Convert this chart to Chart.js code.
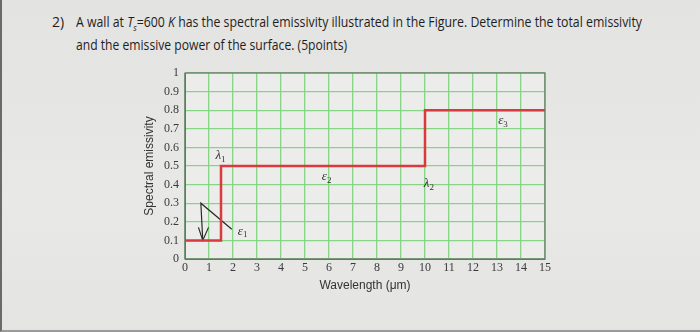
<!DOCTYPE html>
<html>
<head>
<meta charset="utf-8">
<script src="https://cdn.jsdelivr.net/npm/chart.js@4.4.1/dist/chart.umd.min.js"></script>
<style>
  html, body { margin: 0; padding: 0; }
  body {
    width: 700px; height: 332px; overflow: hidden; position: relative;
    background: linear-gradient(180deg, #e3e3e1 0%, #e8e8e6 60%, #e4e4e2 100%);
    border-left: 2px solid #6a6a6a; box-sizing: border-box;
    border-bottom: 2px solid #9a9a9a;
  }
  .line {
    position: absolute; font-family: "Open Sans", sans-serif; font-size: 14px;
    color: #1e1e1e; white-space: nowrap; transform-origin: 0 50%;
  }
  #wrap { position: absolute; left: 0; top: 0; width: 700px; height: 332px; }
</style>
</head>
<body>
<div class="line" id="num" style="left:50px; top:12px;">2)</div>
<div class="line" id="l1" style="left:74px; top:12px;">A wall at <i>T</i><sub style="font-size:9px"><i>s</i></sub>=600 <i>K</i> has the spectral emissivity illustrated in the Figure. Determine the total emissivity</div>
<div class="line" id="l2" style="left:74px; top:35px;">and the emissive power of the surface. (5points)</div>
<div id="wrap"><canvas id="grafico" width="700" height="332"></canvas></div>
<script>
// Datos
const bordes = [0, 1.5, 10, 15];            // longitud de onda (um)
const emisividad = [0.1, 0.5, 0.8, 0.8];    // emisividad espectral
const flechaX = [1.95, 0.66, 0.74];         // linea guia de epsilon 1
const flechaY = [0.16, 0.30, 0.10];
const puntaX = [0.56, 0.74, 0.98];          // punta de la flecha
const puntaY = [0.17, 0.10, 0.17];
const etiquetas = ['λ1', 'ε2', 'λ2', 'ε3', 'ε1'];
const etiquetasX = [1.52, 5.95, 10.2, 13.3, 2.45];
const etiquetasY = [0.555, 0.445, 0.405, 0.745, 0.15];

// ajustar ancho del enunciado
function ajustar(id, ancho) {
    const el = document.getElementById(id);
    const w = el.getBoundingClientRect().width;
    el.style.transform = 'scaleX(' + (ancho / w) + ')';
}
ajustar('l1', 566);
ajustar('l2', 271);

const fondoPlot = {
    id: 'fondoPlot',
    beforeDraw(chart) {
        const { ctx, chartArea: a } = chart;
        ctx.save();
        ctx.fillStyle = '#ececeb';
        ctx.fillRect(a.left, a.top, a.right - a.left, a.bottom - a.top);
        ctx.restore();
    },
    afterDatasetsDraw(chart) {
        const { ctx, chartArea: a, scales } = chart;
        ctx.save();
        ctx.strokeStyle = '#707070';
        ctx.lineWidth = 1.2;
        ctx.strokeRect(a.left, a.top, a.right - a.left, a.bottom - a.top);
        // etiquetas griegas
        ctx.fillStyle = '#333';
        etiquetas.forEach((t, i) => {
            const px = scales.x.getPixelForValue(etiquetasX[i]);
            const py = scales.y.getPixelForValue(etiquetasY[i]);
            ctx.font = 'italic 13px "Liberation Serif"';
            ctx.textAlign = 'left';
            ctx.textBaseline = 'middle';
            const w = ctx.measureText(t[0]).width;
            ctx.fillText(t[0], px - 6, py);
            ctx.font = '9px "Liberation Serif"';
            ctx.fillText(t[1], px - 6 + w, py + 4);
        });
        ctx.restore();
    }
};

const serie = (xs, ys) => xs.map((x, i) => ({ x: x, y: ys[i] }));

new Chart(document.getElementById('grafico'), {
    type: 'line',
    data: {
        datasets: [
            {
                data: serie(bordes, emisividad),
                stepped: 'before',
                borderColor: '#d83a3f',
                borderWidth: 2.5,
                pointRadius: 0
            },
            {
                data: serie(flechaX, flechaY),
                borderColor: '#2a2a2a',
                borderWidth: 1.2,
                pointRadius: 0
            },
            {
                data: serie(puntaX, puntaY),
                borderColor: '#2a2a2a',
                borderWidth: 1.2,
                pointRadius: 0
            }
        ]
    },
    options: {
        responsive: false,
        animation: false,
        plugins: { legend: { display: false }, tooltip: { enabled: false } },
        layout: { padding: { left: 140, right: 157, top: 73, bottom: 39 } },
        scales: {
            x: {
                type: 'linear',
                min: 0, max: 15,
                afterFit: s => { s.height = 34; },
                ticks: {
                    stepSize: 1,
                    padding: 2,
                    color: '#3a3a3a',
                    font: { family: 'Liberation Serif', size: 12 }
                },
                grid: { color: '#86d586', lineWidth: 1.3, drawTicks: false },
                border: { display: true, color: '#707070' },
                title: {
                    display: true,
                    text: 'Wavelength (μm)',
                    color: '#333',
                    padding: { top: 2, bottom: 0 },
                    font: { family: 'Liberation Sans', size: 12 }
                }
            },
            y: {
                min: 0, max: 1,
                afterFit: s => { s.width = 43; },
                ticks: {
                    stepSize: 0.1,
                    padding: 6,
                    color: '#3a3a3a',
                    font: { family: 'Liberation Serif', size: 12 },
                    callback: v => (v === 0 ? '0' : v === 1 ? '1' : v.toFixed(1))
                },
                grid: { color: '#86d586', lineWidth: 1.3, drawTicks: false },
                border: { display: true, color: '#707070' },
                title: {
                    display: true,
                    text: 'Spectral emissivity',
                    color: '#333',
                    padding: 0,
                    font: { family: 'Liberation Sans', size: 12 }
                }
            }
        }
    },
    plugins: [fondoPlot]
});
</script>
</body>
</html>
